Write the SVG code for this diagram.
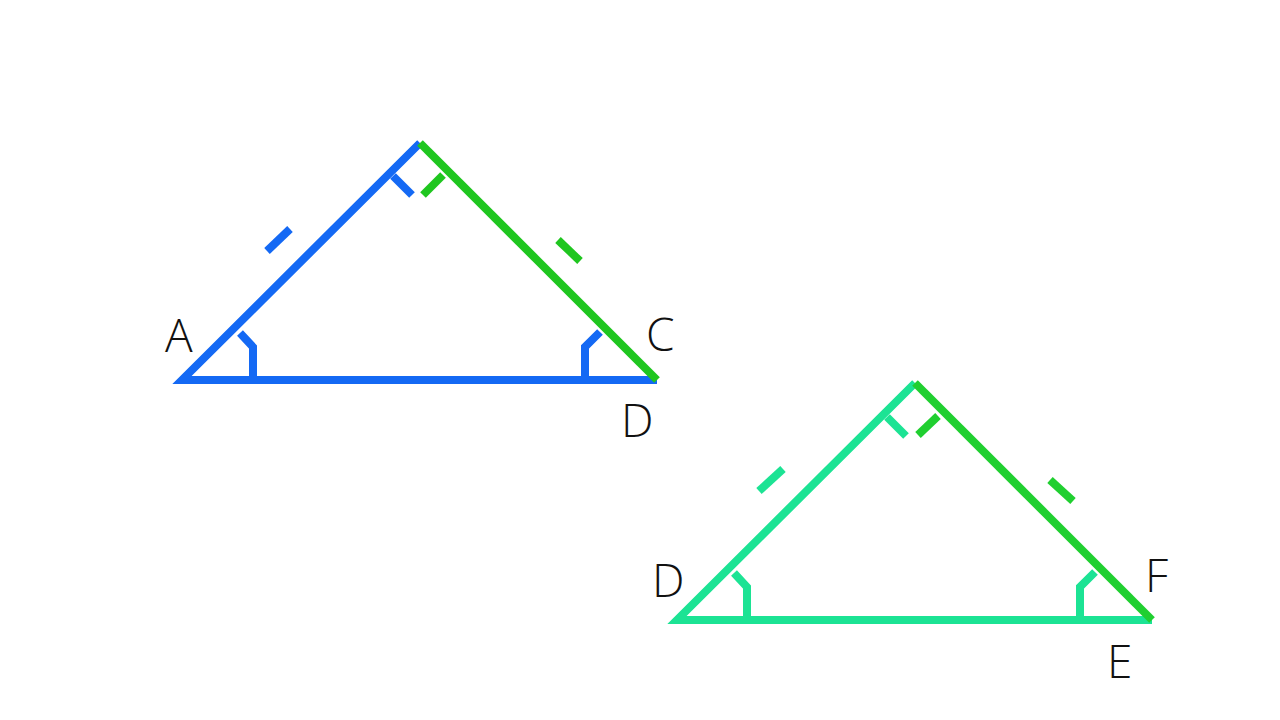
<svg xmlns="http://www.w3.org/2000/svg" width="1280" height="720" viewBox="0 0 1280 720">
<style>
.ln{fill:none;stroke-width:8;stroke-linejoin:miter;stroke-linecap:butt}
.blue{stroke:#1469f4}
.green{stroke:#1fc61f}
.green2{stroke:#20cf30}
.teal{stroke:#1ce394}
.lbl{font-family:"Open Sans","Liberation Sans",sans-serif;font-weight:300;font-size:46px;fill:#111}
</style>
<rect width="1280" height="720" fill="#fff"/>
<g id="connectors">
<g id="triangle-top">
<polyline class="ln blue" points="420,143 182,380 657,380"/>
<line class="ln green" x1="420" y1="143" x2="657" y2="380"/>
<line class="ln blue" x1="393" y1="176" x2="412" y2="195"/>
<line class="ln green" x1="443" y1="175" x2="423" y2="195"/>
<line class="ln blue" x1="267" y1="251" x2="290" y2="229"/>
<line class="ln green" x1="558" y1="240" x2="580" y2="261"/>
<polyline class="ln blue" points="240,333 253,347 253,380"/>
<polyline class="ln blue" points="600,332 585,347 585,380"/>
</g>
<g id="triangle-bottom">
<polyline class="ln teal" points="915,383 677,620 1152,620"/>
<line class="ln green2" x1="915" y1="383" x2="1152" y2="620"/>
<line class="ln teal" x1="887" y1="417" x2="906" y2="436"/>
<line class="ln green2" x1="938" y1="416" x2="918" y2="435"/>
<line class="ln teal" x1="759" y1="491" x2="783" y2="469"/>
<line class="ln green2" x1="1050" y1="480" x2="1073" y2="501"/>
<polyline class="ln teal" points="734,573 747,587 747,620"/>
<polyline class="ln teal" points="1095,572 1080,587 1080,620"/>
</g>
</g>
<g id="label-A"><text class="lbl" x="165" y="352">A</text></g>
<g id="label-C"><text class="lbl" x="646" y="351">C</text></g>
<g id="label-D1"><text class="lbl" x="621" y="437">D</text></g>
<g id="label-D2"><text class="lbl" x="652" y="597">D</text></g>
<g id="label-F"><text class="lbl" x="1145" y="592">F</text></g>
<g id="label-E"><text class="lbl" x="1107" y="678">E</text></g>
</svg>
